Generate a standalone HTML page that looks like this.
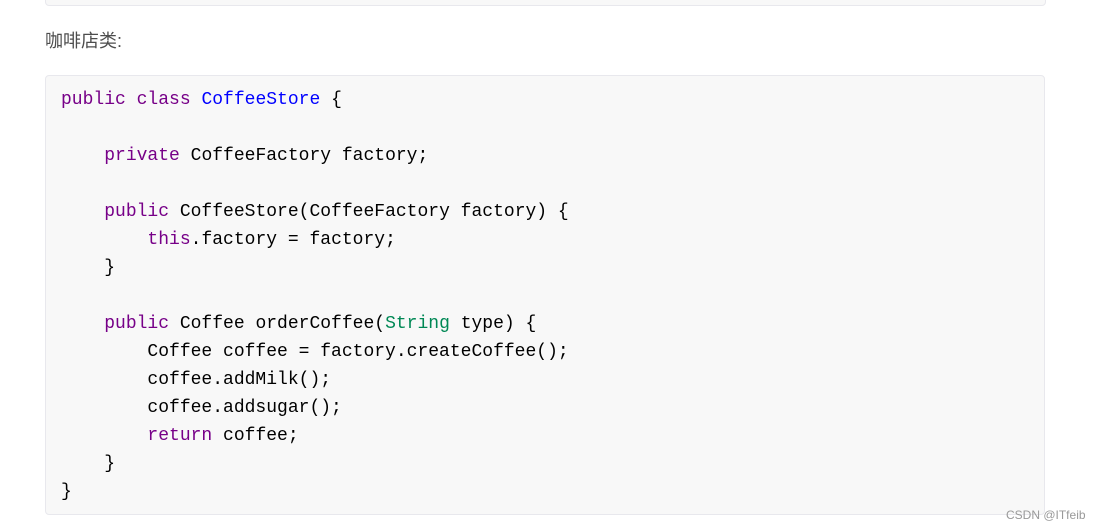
<!DOCTYPE html>
<html><head><meta charset="utf-8"><style>
body{margin:0;width:1093px;height:529px;background:#fff;position:relative;overflow:hidden;font-family:"Liberation Sans","Noto Sans CJK SC",sans-serif}
.prev{position:absolute;left:45px;top:-10px;width:999px;height:14px;background:#f8f8f8;border:1px solid #e8e8ed;border-radius:4px}
.t{position:absolute;left:45px;top:29px;font-size:18px;color:#4d4d4d;line-height:24px}
pre{position:absolute;left:45px;top:75px;width:1000px;height:440px;margin:0;box-sizing:border-box;background:#f8f8f8;border:1px solid #e8e8ed;border-radius:4px;padding:10px 0 0 15px;font-family:"Liberation Mono",monospace;font-size:18px;line-height:28px;color:#000}
.k{color:#770088}.c{color:#0000ff}.s{color:#008855}
.w{position:absolute;left:1006px;top:508px;font-size:12px;color:#999}
</style></head><body>
<div class="prev"></div>
<div class="t">咖啡店类:</div>
<pre><span class="k">public</span> <span class="k">class</span> <span class="c">CoffeeStore</span> {

    <span class="k">private</span> CoffeeFactory factory;

    <span class="k">public</span> CoffeeStore(CoffeeFactory factory) {
        <span class="k">this</span>.factory = factory;
    }

    <span class="k">public</span> Coffee orderCoffee(<span class="s">String</span> type) {
        Coffee coffee = factory.createCoffee();
        coffee.addMilk();
        coffee.addsugar();
        <span class="k">return</span> coffee;
    }
}</pre>
<div class="w">CSDN @ITfeib</div>
</body></html>
